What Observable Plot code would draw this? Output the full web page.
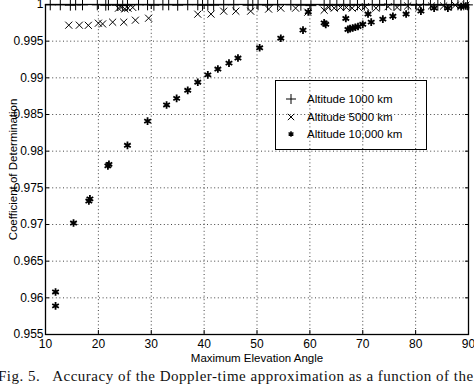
<!DOCTYPE html>
<html><head><meta charset="utf-8">
<script src="https://cdn.jsdelivr.net/npm/d3@7"></script>
<script src="https://cdn.jsdelivr.net/npm/@observablehq/plot@0.6"></script>
<style>
html,body{margin:0;padding:0;background:#fff;}
body{width:474px;height:386px;overflow:hidden;position:relative;font-family:"Liberation Sans",Arial,sans-serif;}
#chart{position:absolute;left:0;top:0;}
#legend{position:absolute;left:275px;top:80px;width:150px;height:68px;border:1px solid #000;font-size:11.5px;color:#000;}
#legend .row{position:absolute;left:0;height:14px;line-height:14px;}
#legend svg{position:absolute;left:10px;top:2px;}
#legend span{position:absolute;left:31px;white-space:nowrap;}
#caption{position:absolute;left:-2px;top:369px;font-family:"Liberation Serif","Times New Roman",serif;font-size:15px;letter-spacing:0.5px;line-height:15px;white-space:nowrap;color:#111;}
</style>
</head><body>
<div id="chart"></div>
<div id="legend"></div>
<div id="caption">Fig. 5.&nbsp;&nbsp; Accuracy of the Doppler-time approximation as a function of the</div>
<script>
// Tick values
const xTicks = [10, 20, 30, 40, 50, 60, 70, 80, 90];
const yTicks = [0.955, 0.96, 0.965, 0.97, 0.975, 0.98, 0.985, 0.99, 0.995, 1];

// Series names
const seriesNames = ["Altitude 1000 km", "Altitude 5000 km", "Altitude 10,000 km"];

// Altitude 1000 km
const x1000 = [10.9, 12.8, 14.7, 15.7, 17.0, 19.8, 21.4, 21.9, 23.6, 24.6, 25.5, 27.6, 29.3, 30.5, 32.2, 33.3, 35.0, 36.9, 38.8, 39.7, 40.7, 41.8, 43.7, 45.6, 48.3, 49.2, 50.2, 52.0, 53.9, 56.4, 58.3, 60.2, 62.7, 63.8, 65.1, 66.4, 67.6, 69.0, 70.3, 71.8, 73.2, 74.5, 75.9, 77.2, 78.6, 80.1, 81.5, 82.8, 84.2, 85.5, 86.8, 88.0, 89.1, 89.8];
const y1000 = [0.99995, 0.99995, 0.99990, 0.99995, 0.99995, 0.99995, 0.99990, 0.99995, 0.99990, 0.99985, 0.99990, 0.99995, 0.99995, 0.99990, 0.99995, 0.99995, 0.99990, 0.99995, 0.99995, 0.99990, 0.99995, 0.99990, 0.99995, 0.99995, 0.99990, 0.99995, 0.99995, 0.99990, 0.99995, 0.99995, 0.99990, 0.99985, 0.99990, 0.99995, 0.99990, 0.99995, 0.99990, 0.99995, 0.99990, 0.99995, 0.99990, 0.99995, 0.99995, 0.99990, 0.99995, 0.99990, 0.99995, 0.99995, 0.99990, 0.99995, 0.99990, 0.99995, 0.99995, 0.99995];

// Altitude 5000 km
const x5000 = [14.4, 16.4, 18.1, 20.0, 20.8, 22.7, 24.8, 27.0, 29.5, 23.8, 24.3, 25.0, 25.6, 26.5, 38.8, 41.3, 43.7, 46.0, 48.8, 52.2, 54.5, 57.3, 59.6, 62.7, 63.5, 64.6, 65.8, 66.9, 68.0, 69.2, 70.5, 72.5, 74.8, 76.5, 78.5, 80.8, 83.0, 85.3, 87.5, 89.5];
const y5000 = [0.99718, 0.99718, 0.99716, 0.99745, 0.99735, 0.99759, 0.99759, 0.99786, 0.99813, 0.99950, 0.99960, 0.99940, 0.99950, 0.99960, 0.99868, 0.99869, 0.99909, 0.99909, 0.99909, 0.99937, 0.99950, 0.99950, 0.99895, 0.99922, 0.99960, 0.99950, 0.99960, 0.99960, 0.99950, 0.99960, 0.99970, 0.99950, 0.99970, 0.99960, 0.99980, 0.99970, 0.99980, 0.99980, 0.99990, 0.99990];

// Altitude 10,000 km
const x10000 = [11.9, 11.9, 15.3, 18.2, 18.4, 21.8, 22.0, 25.5, 29.3, 32.9, 34.8, 36.9, 38.8, 40.7, 42.6, 44.7, 46.4, 50.5, 54.5, 58.7, 59.7, 62.7, 63.0, 66.8, 67.2, 67.6, 68.1, 68.6, 69.1, 70.0, 71.0, 71.6, 73.8, 75.7, 78.2, 81.0, 83.5, 86.1, 88.6, 89.5];
const y10000 = [0.9608, 0.9589, 0.9702, 0.9732, 0.9735, 0.9780, 0.9782, 0.9808, 0.9841, 0.9863, 0.9872, 0.9883, 0.9894, 0.9904, 0.9912, 0.9920, 0.9927, 0.9941, 0.9954, 0.9965, 0.9990, 0.9975, 0.9973, 0.9981, 0.9966, 0.9967, 0.9968, 0.9969, 0.9970, 0.9973, 0.9987, 0.9976, 0.9980, 0.9984, 0.9987, 0.9991, 0.9995, 0.9995, 0.9997, 0.9998];

const rows = (xs, ys, s) => xs.map((x, i) => ({x, y: ys[i], series: s}));
const d1000 = rows(x1000, y1000, seriesNames[0]);
const d5000 = rows(x5000, y5000, seriesNames[1]);
const d10000 = rows(x10000, y10000, seriesNames[2]);

const fmt = d3.format("");
const grid = {stroke: "#222", strokeOpacity: 0.85, strokeDasharray: "1,2.6", strokeWidth: 1};

const chart = Plot.plot({
  width: 474,
  height: 362,
  marginLeft: 45,
  marginRight: 6,
  marginTop: 4,
  marginBottom: 28,
  style: {fontFamily: "'Liberation Sans', Arial, sans-serif", fontSize: "12px", color: "#000", background: "transparent", overflow: "visible"},
  x: {domain: [10, 90]},
  y: {domain: [0.955, 1]},
  marks: [
    Plot.gridX(xTicks, grid),
    Plot.gridY(yTicks, grid),
    Plot.frame({stroke: "#000", strokeWidth: 1.3}),
    Plot.axisX(xTicks, {anchor: "bottom", tickSize: 0, tickPadding: 5, tickFormat: fmt, fontSize: 12, label: null}),
    Plot.axisX(xTicks, {anchor: "bottom", tickSize: 0, tickFormat: () => "", label: "Maximum Elevation Angle", labelAnchor: "center", labelArrow: "none", labelOffset: 27, fontSize: 11.5}),
    Plot.axisX(xTicks, {anchor: "bottom", tickSize: -4, tickFormat: () => "", label: null}),
    Plot.axisX(xTicks, {anchor: "top", tickSize: -4, tickFormat: () => "", label: null}),
    Plot.axisY(yTicks, {anchor: "left", tickSize: 0, tickPadding: 2, tickFormat: fmt, fontSize: 12, label: null}),
    Plot.axisY(yTicks, {anchor: "left", tickSize: 0, tickFormat: () => "", label: "Coefficient of Determination", labelAnchor: "center", labelArrow: "none", labelOffset: 37, fontSize: 11.5}),
    Plot.axisY(yTicks, {anchor: "left", tickSize: -4, tickFormat: () => "", label: null}),
    Plot.axisY(yTicks, {anchor: "right", tickSize: -4, tickFormat: () => "", label: null}),
    Plot.dot(d10000, {x: "x", y: "y", symbol: "asterisk", r: 3.6, stroke: "#000", strokeWidth: 1.8}),
    Plot.dot(d5000, {x: "x", y: "y", symbol: "times", r: 3.3, stroke: "#000", strokeWidth: 1}),
    Plot.dot(d1000, {x: "x", y: "y", symbol: "plus", r: 3.6, stroke: "#000", strokeWidth: 1})
  ]
});
document.getElementById("chart").appendChild(chart);

// Legend (inside the axes, transparent background like the original)
const legendSymbols = [d3.symbolPlus, d3.symbolTimes, d3.symbolAsterisk];
const legendWidths = [1, 1, 1.5];
const legendSizes = [40, 28, 22];
const legend = document.getElementById("legend");
seriesNames.forEach((name, i) => {
  const row = document.createElement("div");
  row.className = "row";
  row.style.top = (11 + i * 17.5) + "px";
  const svg = d3.create("svg").attr("width", 10).attr("height", 10);
  svg.append("path")
    .attr("transform", "translate(5,5)")
    .attr("d", d3.symbol(legendSymbols[i], legendSizes[i])())
    .attr("fill", "none").attr("stroke", "#000").attr("stroke-width", legendWidths[i]);
  row.appendChild(svg.node());
  const sp = document.createElement("span");
  sp.textContent = name;
  row.appendChild(sp);
  legend.appendChild(row);
});
</script>
</body></html>
